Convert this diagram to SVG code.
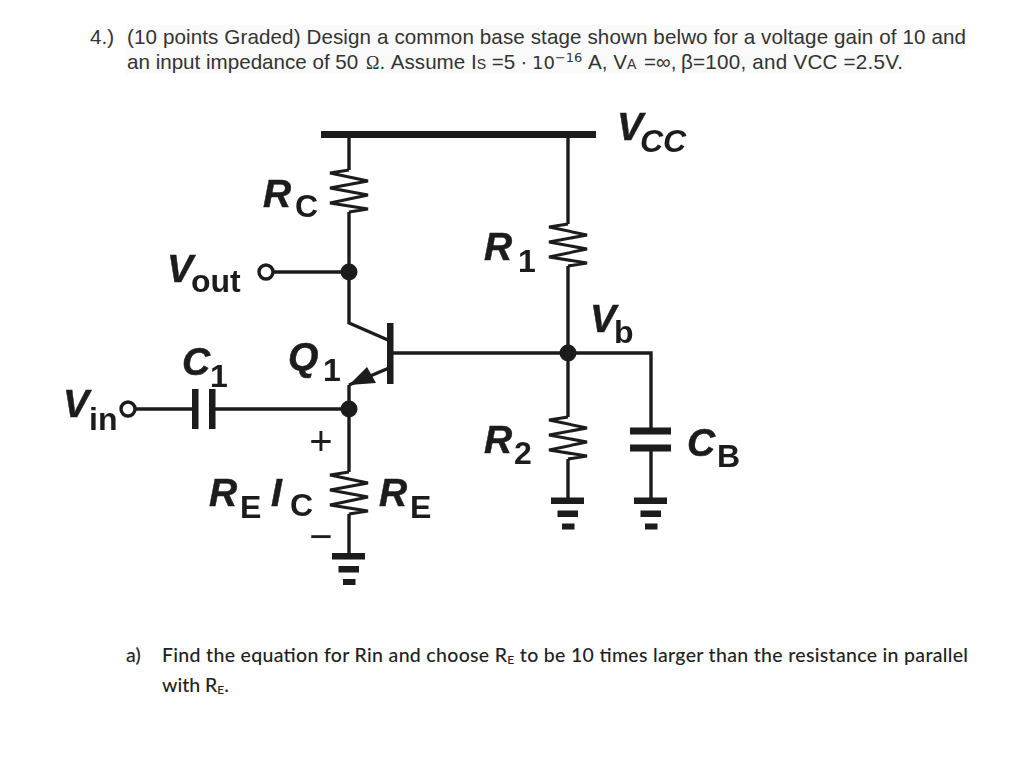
<svg xmlns="http://www.w3.org/2000/svg" width="1024" height="772" viewBox="0 0 1024 772">
<style>
.w{fill:none;stroke:#1c1c1c;stroke-width:3.4;stroke-linejoin:miter}
.z{fill:none;stroke:#1c1c1c;stroke-width:3}
.p{fill:#1c1c1c}
.o{fill:#fff;stroke:#1c1c1c;stroke-width:3.4}
.m{font-family:"Liberation Sans",Arial,sans-serif;font-weight:700;font-style:italic;font-size:39px;fill:#1c1c1c;stroke:#1c1c1c;stroke-width:.5}
.s{font-family:"Liberation Sans",Arial,sans-serif;font-weight:700;font-size:32px;fill:#1c1c1c}
.g{font-family:"Liberation Sans",Arial,sans-serif;font-weight:400;font-size:40px;fill:#1c1c1c;text-anchor:middle}
.t{font-family:"Liberation Sans",Arial,sans-serif;font-size:20.6px;fill:#333}
.b{font-family:Lato,"Liberation Sans",sans-serif;font-size:19.5px;fill:#222;font-weight:500}
.sm{font-size:14px}
</style>
<defs>
<filter id="soft" x="-5%" y="-5%" width="110%" height="110%"><feGaussianBlur stdDeviation="0.45"/></filter>
<polyline id="res" class="z" points="0,0 -19,3 19,11 -19,18 19,25 -19,33 19,39 0,42"/>
<g id="gnd" class="p">
<rect x="-17" y="0" width="33" height="6.5"/>
<rect x="-10.5" y="13" width="20.5" height="6.5"/>
<rect x="-6" y="26" width="12.5" height="6"/>
</g>
</defs>
<rect width="1024" height="772" fill="#fff"/>
<g id="problem-text">
<rect x="126" y="25" width="840" height="25" fill="#fafafa"/>
<rect x="126" y="50" width="779" height="24" fill="#fafafa"/>
<text class="t" x="90" y="44">4.)</text>
<text class="t" x="127" y="44" textLength="839" lengthAdjust="spacing">(10 points Graded) Design a common base stage shown belwo for a voltage gain of 10 and</text>
<text class="t" x="127" y="69">an input impedance of 50 <tspan x="366" font-family="'Liberation Serif',serif" font-size="18">Ω</tspan><tspan>. Assume I</tspan><tspan class="sm">S</tspan> =5 ∙ <tspan x="532" font-family="'DejaVu Sans',sans-serif" font-size="18">10</tspan><tspan font-family="'DejaVu Sans',sans-serif" font-size="13" dy="-7">−16</tspan><tspan x="588" dy="7">A, V</tspan><tspan class="sm">A</tspan></text>
<text class="t" x="644" y="69">=∞,</text>
<text class="t" x="681" y="69" textLength="222" lengthAdjust="spacing">β=100, and VCC =2.5V.</text>
</g>
<g id="circuit" filter="url(#soft)">
<g id="connectors">
<path class="w" d="M349 134V170M349 212V323L388 340M349 385V472M349 514V553"/>
<path class="w" d="M349 385L389 368"/>
<path class="w" d="M568 134V224M568 266V417M568 459V501M390 353H651V430M651 448V501"/>
<path class="w" d="M273 272H349M135 409H195M212 409H349"/>
</g>
<g id="vcc-rail"><rect class="p" x="321" y="131" width="275" height="7"/>
<text class="m" x="617" y="140">V</text><text class="s" font-style="italic" x="640" y="152">CC</text></g>
<g id="RC"><use href="#res" x="349" y="170"/>
<text class="m" x="263" y="207">R</text><text class="s" x="295" y="217">C</text></g>
<g id="Vout"><circle class="o" cx="266" cy="272" r="7"/><circle class="p" cx="349" cy="272" r="8.500"/>
<text class="m" x="167" y="282">V</text><text class="s" x="191" y="292">out</text></g>
<g id="Q1"><rect class="p" x="387" y="323" width="6.5" height="61"/>
<polygon class="p" points="349,385 367,367 376,383"/>
<text class="m" x="288" y="370">Q</text><text class="s" x="323" y="381">1</text></g>
<g id="C1"><rect class="p" x="192" y="389" width="6.5" height="40"/><rect class="p" x="209" y="389" width="6.5" height="40"/>
<text class="m" x="182" y="375">C</text><text class="s" x="210" y="387">1</text></g>
<g id="Vin"><circle class="o" cx="128" cy="409" r="7"/><circle class="p" cx="349" cy="409" r="8.500"/>
<text class="m" x="63" y="417">V</text><text class="s" x="89" y="430">in</text></g>
<g id="RE"><use href="#res" x="349" y="472"/><use href="#gnd" x="349" y="553"/>
<text class="g" x="321" y="455">+</text>
<text class="g" x="321" y="550">−</text>
<text class="m" x="209" y="506">R</text><text class="s" x="240" y="518">E</text>
<text class="m" x="271" y="506">I</text><text class="s" x="290" y="516">C</text>
<text class="m" x="379" y="506">R</text><text class="s" x="410" y="518">E</text></g>
<g id="R1"><use href="#res" x="568" y="224"/>
<text class="m" x="484" y="260">R</text><text class="s" x="518" y="272">1</text></g>
<g id="Vb"><circle class="p" cx="568" cy="353" r="8.500"/>
<text class="m" x="590" y="332">V</text><text class="s" x="614" y="343">b</text></g>
<g id="R2"><use href="#res" x="568" y="417"/><use href="#gnd" x="568" y="497.500"/>
<text class="m" x="484" y="453">R</text><text class="s" x="514" y="464">2</text></g>
<g id="CB"><rect class="p" x="630" y="427.500" width="41" height="7"/><rect class="p" x="630" y="444.500" width="41" height="7"/><use href="#gnd" x="651" y="497.500"/>
<text class="m" x="687" y="456">C</text><text class="s" x="717" y="467">B</text></g>
</g>
<g id="question-text">
<text class="b" x="126" y="662">a)</text>
<text class="b" x="162" y="662" textLength="806" lengthAdjust="spacing">Find the equation for Rin and choose R<tspan font-size="12" dy="2">E</tspan><tspan dy="-2"> to be 10 times larger than the resistance in parallel</tspan></text>
<text class="b" x="162" y="692">with R<tspan font-size="12" dy="2">E</tspan><tspan dy="-2">.</tspan></text>
</g>
</svg>
